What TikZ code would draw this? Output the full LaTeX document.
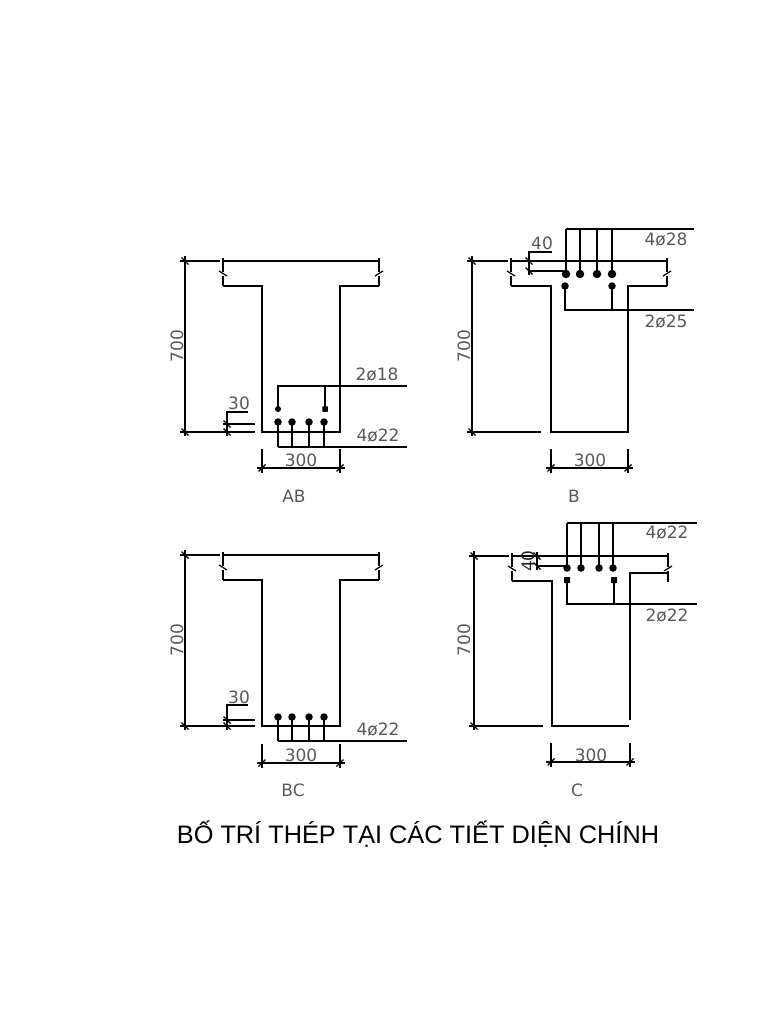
\documentclass[tikz,border=0pt]{standalone}
\usepackage{fontspec}
\setmainfont{Liberation Sans}
\newfontfamily\cadfont{DejaVu Sans}
\usetikzlibrary{calc}
\definecolor{cadtext}{gray}{0.35}
\tikzset{
    beamline/.style={black, line width=1.25pt},
    dimline/.style={black, line width=1.15pt},
    cadlabel/.style={inner sep=0pt, text=cadtext, font=\cadfont\fontsize{17}{17}\selectfont},
    bar/.style={circle, fill=black, inner sep=0pt, minimum size=#1},
    squarebar/.style={rectangle, rounded corners=0.5pt, fill=black, inner sep=0pt, minimum size=#1}
}
% tick of a dimension line, #2 = 0 for horizontal lines, 90 for vertical lines
\newcommand{\dimtick}[2]{
    \draw[dimline, shift={#1}, rotate=#2] (-3.5,3.5) -- (3.5,-3.5);
}
% flange edge with its break mark, #4 = 1 on the left, -1 on the right
\newcommand{\flangeedge}[4]{
    \draw[beamline] (#1,#2-3) -- (#1,#2+11);
    \draw[beamline] (#1,#2+15) -- (#1,#3);
    \draw[beamline, shift={(#1,#2+13)}, xscale=#4] (-4,-3) -- (4,2);
}
% dimension lines 700 and 300, and the bottom extension line
\newcommand{\beamdims}[8]{
    % #1 x of 700 line, #2 top, #3 bottom, #4 end of bottom line, #5 web left, #6 web right, #7 y of 300 line, #8 top end of the top line
    \draw[dimline] (#1,#2-5) -- (#1,#3+4);
    \draw[dimline] (#1-5,#2) -- (#8,#2);
    \draw[dimline] (#1-5,#3) -- (#4,#3);
    \dimtick{(#1,#2)}{90}
    \dimtick{(#1,#3)}{90}
    \draw[dimline] (#5,#7-19) -- (#5,#7+5);
    \draw[dimline] (#6,#7-19) -- (#6,#7+5);
    \draw[dimline] (#5-5,#7) -- (#6+5,#7);
    \dimtick{(#5,#7)}{0}
    \dimtick{(#6,#7)}{0}
}

\begin{document}
\begin{tikzpicture}[x=1pt, y=-1pt]

    \useasboundingbox[fill=white] (0,0) rectangle (768,1024);

    % Section AB
    \draw[beamline] (223,261) -- (379,261);
    \flangeedge{223}{261}{286}{1}
    \flangeedge{379}{261}{286}{-1}
    \draw[beamline] (223,286) -- (262,286) -- (262,432) -- (340,432) -- (340,286) -- (379,286);
    \beamdims{185}{261}{432}{255}{262}{340}{468}{220}
    \draw[dimline] (223,424) -- (255,424);
    \draw[dimline] (248,412) -- (227,412) -- (227,436);
    \dimtick{(227,424)}{90}
    \dimtick{(227,432)}{90}
    \foreach \name/\x in {ab1/278,ab2/292,ab3/309,ab4/324}{
        \node[bar=7.5pt] (\name) at (\x,422) {};
        \draw[dimline] (\name.center) -- (\x,447);
    }
    \node[bar=6pt] (ab5) at (278,409) {};
    \node[squarebar=5.5pt] (ab6) at (325,409) {};
    \draw[dimline] (ab5.center) -- (278,386) -- (407,386);
    \draw[dimline] (ab6.center) -- (325,386);
    \draw[dimline] (278,447) -- (407,447);
    \node[cadlabel] (abtop) at (377,375) {2ø18};
    \node[cadlabel] (abbot) at (378,436) {4ø22};
    \node[cadlabel] (abcov) at (239,403) {30};
    \node[cadlabel] (abh) at (177,346) [rotate=90] {700};
    \node[cadlabel] (abw) at (301,460) {300};
    \node[cadlabel] (abname) at (294,496) {AB};

    % Section B
    \draw[beamline] (511,261) -- (667,261);
    \flangeedge{511}{261}{286}{1}
    \flangeedge{667}{261}{286}{-1}
    \draw[beamline] (511,286) -- (551,286) -- (551,432) -- (628,432) -- (628,286) -- (667,286);
    \beamdims{472}{261}{432}{541}{551}{628}{468}{508}
    \draw[dimline] (552,252) -- (529,252) -- (529,275);
    \draw[dimline] (529,271) -- (565,271);
    \dimtick{(529,261)}{90}
    \dimtick{(529,271)}{90}
    \foreach \name/\x in {b1/566,b2/580,b3/597,b4/612}{
        \node[bar=8.5pt] (\name) at (\x,274) {};
        \draw[dimline] (\name.center) -- (\x,229);
    }
    \node[bar=7.5pt] (b5) at (565,286) {};
    \node[bar=7.5pt] (b6) at (612,286) {};
    \draw[dimline] (b5.center) -- (565,310) -- (694,310);
    \draw[dimline] (b6.center) -- (612,310);
    \draw[dimline] (566,229) -- (694,229);
    \node[cadlabel] (btop) at (666,240) {4ø28};
    \node[cadlabel] (bbot) at (666,322) {2ø25};
    \node[cadlabel] (bcov) at (542,243) {40};
    \node[cadlabel] (bh) at (464,346) [rotate=90] {700};
    \node[cadlabel] (bw) at (590,460) {300};
    \node[cadlabel] (bname) at (574,496) {B};

    % Section BC
    \draw[beamline] (223,555) -- (379,555);
    \flangeedge{223}{555}{580}{1}
    \flangeedge{379}{555}{580}{-1}
    \draw[beamline] (223,580) -- (262,580) -- (262,726) -- (340,726) -- (340,580) -- (379,580);
    \beamdims{185}{555}{726}{255}{262}{340}{763}{220}
    \draw[dimline] (223,720) -- (255,720);
    \draw[dimline] (248,705) -- (227,705) -- (227,730);
    \dimtick{(227,720)}{90}
    \dimtick{(227,726)}{90}
    \foreach \name/\x in {bc1/278,bc2/292,bc3/309,bc4/324}{
        \node[bar=7.5pt] (\name) at (\x,717) {};
        \draw[dimline] (\name.center) -- (\x,741);
    }
    \draw[dimline] (278,741) -- (407,741);
    \node[cadlabel] (bcbot) at (378,730) {4ø22};
    \node[cadlabel] (bccov) at (239,697) {30};
    \node[cadlabel] (bch) at (177,640) [rotate=90] {700};
    \node[cadlabel] (bcw) at (301,755) {300};
    \node[cadlabel] (bcname) at (293,790) {BC};

    % Section C
    \draw[beamline] (512,556) -- (668,556);
    \flangeedge{512}{556}{581}{1}
    \flangeedge{668}{556}{582}{-1}
    \draw[beamline] (512,581) -- (552,581) -- (552,726) -- (629,726);
    \draw[beamline] (668,573) -- (630,573) -- (630,720);
    \beamdims{474}{556}{726}{543}{551}{630}{762}{509}
    \draw[dimline] (537,552) -- (537,570);
    \draw[dimline] (537,566) -- (567,566);
    \dimtick{(537,556)}{90}
    \dimtick{(537,566)}{90}
    \foreach \name/\x in {c1/567,c2/581,c3/599,c4/613}{
        \node[bar=7.5pt] (\name) at (\x,568) {};
        \draw[dimline] (\name.center) -- (\x,523);
    }
    \node[squarebar=6pt] (c5) at (567,580) {};
    \node[squarebar=6pt] (c6) at (614,580) {};
    \draw[dimline] (c5.center) -- (567,604) -- (697,604);
    \draw[dimline] (c6.center) -- (614,604);
    \draw[dimline] (567,523) -- (697,523);
    \node[cadlabel] (ctop) at (667,533) {4ø22};
    \node[cadlabel] (cbot) at (667,616) {2ø22};
    \node[cadlabel, text=black!85] (ccov) at (528,561) [rotate=90] {40};
    \node[cadlabel] (ch) at (464,640) [rotate=90] {700};
    \node[cadlabel] (cw) at (591,755) {300};
    \node[cadlabel] (cname) at (577,790) {C};

    % Title
    \node[inner sep=0pt, font=\fontsize{25.3}{25.3}\selectfont] (title) at (418,834) {BỐ TRÍ THÉP TẠI CÁC TIẾT DIỆN CHÍNH};

\end{tikzpicture}
\end{document}
